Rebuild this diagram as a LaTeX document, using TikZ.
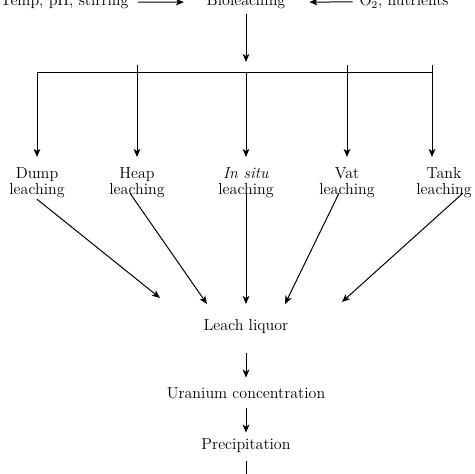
\documentclass[tikz,border=0pt]{standalone}
\usepackage{amsmath, amssymb}
\usetikzlibrary{arrows.meta}
\tikzset{every picture/.style={line width=0.75pt}}
\tikzset{
  flow/.style={-{Stealth[length=6pt,width=5pt,inset=1.5pt]}},
  lbl/.style={inner sep=0.75pt, font=\fontsize{12}{12}\selectfont, align=center}
}

\begin{document}
\begin{tikzpicture}[x=0.75pt,y=0.75pt,yscale=-1,xscale=1]
\useasboundingbox (0,0) rectangle (474,474);

% Text Node
\draw (130,6) node (cond) [lbl, anchor=base east] {Temp, pH, stirring};
% Text Node
\draw (246,6) node (bio) [lbl, anchor=base] {Bioleaching};
% Text Node
\draw (358,6) node (oxy) [lbl, anchor=base west] {O$_2$, nutrients};
% Text Node
\draw (37,166) node (dump) [lbl, anchor=north] {Dump\\leaching};
% Text Node
\draw (137,166) node (heap) [lbl, anchor=north] {Heap\\leaching};
% Text Node
\draw (246,166) node (situ) [lbl, anchor=north] {\textit{In situ}\\leaching};
% Text Node
\draw (347,166) node (vat) [lbl, anchor=north] {Vat\\leaching};
% Text Node
\draw (444,166) node (tank) [lbl, anchor=north] {Tank\\leaching};
% Text Node
\draw (246,330) node (liquor) [lbl, anchor=base] {Leach liquor};
% Text Node
\draw (246,398) node (conc) [lbl, anchor=base] {Uranium concentration};
% Text Node
\draw (246,449) node (prec) [lbl, anchor=base] {Precipitation};

%Branch points
\coordinate (b1) at (37,73);
\coordinate (b2) at (137,73);
\coordinate (b3) at (246,73);
\coordinate (b4) at (347,73);
\coordinate (b5) at (432,73);
%Arrow ends above leach liquor
\coordinate (inDump) at (160,298);
\coordinate (inHeap) at (207,304);
\coordinate (inSitu) at (246,304);
\coordinate (inVat) at (285,304);
\coordinate (inTank) at (342,302);
\coordinate (down) at (246,478);

%Straight Lines
\draw [flow] ([xshift=6pt]cond.east) -- ([xshift=-16pt]bio.west);
\draw [flow] ([xshift=-4pt]oxy.west) -- ([xshift=17pt]bio.east);
\draw [flow, shorten <=2.25pt, shorten >=8.25pt] (bio.south) -- (b3);
%Branch bar
\draw (b1) -- (b5);
\draw (b2) -- ++(0,-8);
\draw (b4) -- ++(0,-8);
\draw (b5) -- ++(0,-8);
%Straight Lines
\draw [flow, shorten >=6.75pt] (b1) -- (b1 |- dump.north);
\draw [flow, shorten >=6.75pt] (b2) -- (b2 |- heap.north);
\draw [flow, shorten >=6.75pt] (b3) -- (b3 |- situ.north);
\draw [flow, shorten >=6.75pt] (b4) -- (b4 |- vat.north);
\draw [flow, shorten >=6.75pt] (b5) -- (b5 |- tank.north);
%Straight Lines
\draw [flow] (dump.south) -- (inDump);
\draw [flow] ([xshift=-5.25pt,yshift=-4.5pt]heap.south) -- (inHeap);
\draw [flow] ([yshift=-5pt]situ.south) -- (inSitu);
\draw [flow] ([xshift=-6pt,yshift=-4.5pt]vat.south) -- (inVat);
\draw [flow] ([xshift=14pt,yshift=-4.5pt]tank.south) -- (inTank);
%Straight Lines
\draw [flow, shorten <=13.5pt, shorten >=6pt] (liquor.south) -- (conc.north);
\draw [flow, shorten <=6pt, shorten >=3pt] (conc.south) -- (prec.north);
\draw [shorten <=5.25pt] (prec.south) -- (down);

\end{tikzpicture}
\end{document}
